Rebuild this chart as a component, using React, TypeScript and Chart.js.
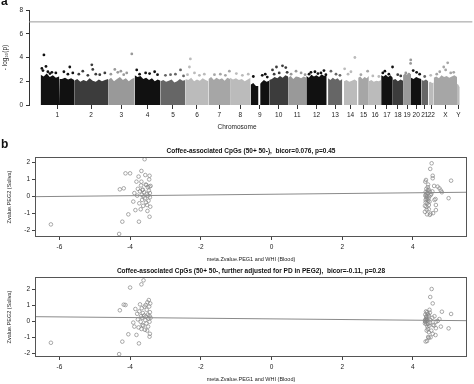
import React, { useEffect, useRef } from 'react';
import { Chart, registerables } from 'chart.js';

Chart.register(...registerables);

const FONT = "'Liberation Sans', Arial, Helvetica, sans-serif";

// ---------------- Panel a : Manhattan plot ----------------
const chromosomes = ['1', '2', '3', '4', '5', '6', '7', '8', '9', '10', '11', '12', '13', '14', '15', '16', '17', '18', '19', '20', '21', '22', 'X', 'Y'];
// span covered by probes on each chromosome (Mb)
const chromSpanMb = [245, 248, 194, 189, 182, 168, 158, 150, 136, 138, 133, 149, 114, 109, 85, 90, 85, 75, 58, 76, 50, 40, 170, 20];
const chromFirstProbeMb = [0, 0, 0, 0, 0, 0, 0, 0, 0, 0, 0, 0, 10, 12, 7, 0, 0, 0, 0, 0, 0, 4, 0, 0];
const centromereGaps: [string, number, number][] = [['1', 135, 141], ['9', 56, 71]];
// upper edge of the dense cloud of CpGs (-log10 p), evenly along each chromosome
const denseBandTop: number[][] = [
  [2.55, 2.4, 2.65, 2.35, 2.5, 2.3, 2.4, 2.2, 2.3, 2.15, 2.25, 2.1],
  [2.05, 2.2, 1.95, 2.1, 2.0, 2.25, 2.05, 1.95, 2.15, 2.0, 2.1, 2.2],
  [2.1, 2.3, 2.0, 2.2, 2.35, 2.1, 2.25, 2.0, 2.2, 2.3],
  [2.5, 2.35, 2.45, 2.2, 2.3, 2.1, 2.25, 2.0, 2.15, 2.05],
  [2.0, 2.1, 1.95, 2.05, 2.15, 1.9, 2.0, 2.2, 2.05, 2.1],
  [2.2, 2.1, 2.3, 2.0, 2.15, 2.05, 2.25, 2.1, 2.0],
  [2.2, 2.35, 2.1, 2.3, 2.15, 2.25, 2.05, 2.3, 2.2],
  [2.3, 2.15, 2.25, 2.1, 2.2, 2.0, 2.15, 2.3],
  [1.7, 1.85, 1.6, 1.8, 1.9, 2.1, 1.95, 2.05],
  [2.1, 2.2, 2.35, 2.25, 2.45, 2.3, 2.5, 2.4],
  [2.3, 2.45, 2.2, 2.4, 2.35, 2.25, 2.4, 2.3],
  [2.45, 2.3, 2.55, 2.4, 2.5, 2.35, 2.6, 2.45, 2.55],
  [2.25, 2.1, 2.3, 2.15, 2.25, 2.05, 2.2],
  [2.0, 2.1, 1.95, 2.05, 2.15, 2.0],
  [2.3, 2.4, 2.2, 2.35, 2.25, 2.45],
  [2.0, 2.1, 1.95, 2.05, 2.0, 2.1],
  [2.5, 2.4, 2.55, 2.35, 2.5, 2.3],
  [2.1, 2.2, 2.0, 2.15, 2.05],
  [2.5, 2.65, 2.55, 2.7, 2.6],
  [2.3, 2.2, 2.35, 2.25, 2.2],
  [2.1, 2.05, 2.15, 2.0],
  [1.9, 1.95, 1.85, 1.9],
  [2.3, 2.4, 2.25, 2.5, 2.35, 2.45, 2.3, 2.4, 2.5, 2.35],
  [1.8, 1.7, 1.5],
];
// individual CpGs standing above the cloud: [chromosome, position Mb, -log10 p]
const topHits: [string, number, number][] = [
  ['1', 24, 4.22], ['1', 39, 3.25], ['1', 9, 3.08], ['1', 213, 3.2], ['1', 17, 2.9], ['1', 53, 2.8], ['1', 82, 2.75], ['1', 111, 2.7], ['1', 170, 2.8], ['1', 199, 2.6], ['1', 235, 2.7], ['1', 68, 2.65],
  ['2', 129, 3.38], ['2', 136, 3.0], ['2', 63, 2.85], ['2', 34, 2.6], ['2', 187, 2.55], ['2', 224, 2.7], ['2', 100, 2.5], ['2', 158, 2.6],
  ['3', 173, 4.3], ['3', 49, 3.0], ['3', 93, 2.85], ['3', 136, 2.7], ['3', 20, 2.6], ['3', 71, 2.75], ['3', 114, 2.55],
  ['4', 15, 2.95], ['4', 146, 2.8], ['4', 36, 2.6], ['4', 80, 2.7], ['4', 109, 2.65], ['4', 167, 2.55],
  ['5', 146, 2.95], ['5', 109, 2.6], ['5', 36, 2.5], ['5', 73, 2.55], ['5', 168, 2.45],
  ['6', 36, 3.88], ['6', 29, 3.2], ['6', 66, 2.7], ['6', 102, 2.5], ['6', 138, 2.6], ['6', 15, 2.55],
  ['7', 153, 2.85], ['7', 44, 2.55], ['7', 87, 2.6], ['7', 124, 2.5],
  ['8', 46, 2.65], ['8', 90, 2.5], ['8', 133, 2.6],
  ['9', 20, 2.4], ['9', 85, 2.5], ['9', 107, 2.6], ['9', 122, 2.35],
  ['10', 97, 3.3], ['10', 121, 3.15], ['10', 24, 2.95], ['10', 53, 3.2], ['10', 73, 2.7], ['10', 36, 2.6], ['10', 131, 2.75],
  ['11', 58, 2.85], ['11', 22, 2.6], ['11', 95, 2.7], ['11', 124, 2.55],
  ['12', 34, 2.75], ['12', 63, 2.8], ['12', 85, 2.65], ['12', 107, 2.7], ['12', 129, 2.9], ['12', 20, 2.6], ['12', 143, 2.55],
  ['13', 31, 2.85], ['13', 68, 2.6], ['13', 97, 2.5],
  ['14', 92, 4.0], ['14', 17, 3.05], ['14', 63, 2.8], ['14', 42, 2.6],
  ['15', 76, 2.85], ['15', 27, 2.55],
  ['16', 29, 2.45], ['16', 73, 2.4],
  ['17', 27, 2.85], ['17', 83, 3.2], ['17', 56, 2.6], ['17', 12, 2.7],
  ['18', 36, 2.55], ['18', 58, 2.45],
  ['19', 56, 3.8], ['19', 55, 3.5], ['19', 20, 2.7], ['19', 42, 2.6],
  ['20', 16, 2.9], ['20', 41, 2.75], ['20', 63, 2.6],
  ['21', 24, 2.4],
  ['22', 18, 2.5],
  ['X', 102, 3.55], ['X', 73, 3.2], ['X', 87, 2.95], ['X', 44, 2.8], ['X', 124, 2.7], ['X', 22, 2.6], ['X', 146, 2.75],
];
const genomeWideThreshold = 7;
const manhattanYMin = 0;
const manhattanYMax = 8;
const manhattanXMin = -85;
const manhattanXMax = 3156;

// ---------------- Panel b : scatter plots ----------------
// meta Z values (PEG1 + WHI, blood) of the 50 negatively / 50 positively coffee-associated CpGs
const negMetaZ = [-6.24, -4.31, -4.29, -4.22, -4.18, -4.13, -4.05, -4.0, -3.91, -3.88, -3.85, -3.82, -3.80, -3.78, -3.76, -3.75, -3.74, -3.72, -3.70, -3.69, -3.68, -3.68, -3.67, -3.66, -3.65, -3.64, -3.63, -3.62, -3.60, -3.59, -3.58, -3.57, -3.56, -3.55, -3.54, -3.53, -3.52, -3.51, -3.50, -3.49, -3.48, -3.47, -3.46, -3.45, -3.45, -3.45, -3.44, -3.44, -3.43, -3.42];
const posMetaZ = [4.53, 4.49, 4.56, 4.56, 5.08, 4.37, 4.35, 4.70, 4.75, 4.45, 4.38, 4.42, 4.79, 4.82, 4.36, 4.40, 4.48, 5.01, 4.35, 4.40, 4.46, 4.50, 4.39, 4.44, 4.61, 4.64, 4.36, 4.41, 4.34, 4.38, 4.45, 4.65, 4.39, 4.45, 4.65, 4.40, 4.48, 4.50, 4.57, 4.34, 4.37, 4.43, 4.52, 4.42, 4.38, 4.47, 4.55, 4.36, 4.60, 4.43];
// Z values in PEG2 saliva
const negPeg2Z = [-1.64, -2.2, 0.42, -1.48, 0.48, 1.36, -1.05, 1.36, -0.3, 0.2, -0.8, 0.87, 0.05, 0.45, 1.17, -1.48, -0.4, 0.3, -0.75, 0.65, 1.5, 0.87, 0.1, -0.2, 0.38, 0.4, -0.55, 0.0, 0.25, 2.19, -0.1, 1.26, 0.7, -0.35, 0.68, 0.15, -0.5, -0.85, 0.55, 0.05, -0.25, 0.35, 1.0, 1.22, -1.19, 0.58, -0.05, 0.2, -0.6, 0.62];
const posPeg2Z = [1.95, 1.62, 1.22, 1.07, 0.93, 0.97, 0.87, 0.58, 0.48, 0.40, 0.45, 0.35, 0.35, 0.25, 0.26, 0.20, 0.28, -0.10, 0.05, 0.02, 0.0, 0.08, -0.15, -0.12, -0.20, -0.15, -0.35, -0.40, -0.55, -0.60, -0.50, -0.50, -0.78, -0.75, -0.80, -1.05, -1.08, -1.00, -0.98, -0.90, 0.10, -0.25, 0.15, 0.55, -0.05, -0.30, 0.30, -0.20, 0.62, 0.70];
// Z values in PEG2 saliva, further adjusted for PD
const negPeg2ZAdj = [-1.36, -2.07, 0.67, -1.29, 1.02, 1.0, -0.83, 2.09, -0.1, -0.35, 0.75, -0.87, 0.45, 0.1, -0.4, -1.4, 0.6, 1.04, -0.05, 0.3, 2.29, -0.5, 0.8, 0.2, -0.25, 0.5, -0.3, 2.54, 0.35, 0.9, -0.55, 0.05, 1.0, 0.28, -0.15, 0.7, -0.6, 1.17, 0.4, -0.35, 0.15, 1.31, 0.9, -0.98, 0.32, -0.05, -0.8, 0.55, 1.1, 0.2];
const posPeg2ZAdj = [2.0, 1.5, 1.1, -0.80, 0.44, 0.6, 0.40, 0.0, 0.12, 0.35, 0.25, 0.45, -0.35, 0.58, 0.10, 0.55, -0.10, -0.46, -0.05, 0.05, -0.30, -1.02, 0.15, 0.28, 0.30, -0.88, -1.28, -0.35, -0.15, -0.20, -0.70, -0.45, -0.60, -1.05, -0.05, -1.25, 0.52, 0.05, -0.25, 0.02, -0.02, -0.18, -0.60, -0.50, 0.30, 0.70, 0.20, 0.08, -0.28, -1.00];
const scatterXMin = -6.69;
const scatterXMax = 5.53;
const fit1 = { intercept: 0.132, slope: 0.0213 };
const fit2 = { intercept: 0.133, slope: -0.0205 };
const title1 = 'Coffee-associated CpGs (50+ 50-),  bicor=0.076, p=0.45';
const title2 = 'Coffee-associated CpGs (50+ 50-, further adjusted for PD in PEG2),  bicor=-0.11, p=0.28';
const xTitleB = 'meta.Zvalue.PEG1 and WHI (Blood)';
const yTitleB = 'Zvalue.PEG2 (Saliva)';

// ---------------- styles ----------------
const chromPalette = ['#111111', '#3c3c3c', '#999999', '#111111', '#666666', '#bbbbbb', '#a6a6a6', '#bbbbbb'];
const TXT = '#222222';

const boxPlugin = {
  id: 'box',
  afterDatasetsDraw(chart: any, _a: any, opts: any) {
    if (!opts || !opts.enabled) return;
    const { ctx, chartArea } = chart;
    ctx.save();
    ctx.strokeStyle = '#555';
    ctx.lineWidth = 1;
    ctx.strokeRect(chartArea.left + 0.5, chartArea.top + 0.5, chartArea.right - chartArea.left - 1, chartArea.bottom - chartArea.top - 1);
    ctx.restore();
  },
};

const centeredTitlePlugin = {
  id: 'centeredTitle',
  afterDraw(chart: any, _a: any, opts: any) {
    if (!opts || !opts.text) return;
    const ctx = chart.ctx;
    ctx.save();
    ctx.font = `${opts.size}px ${FONT}`;
    ctx.fillStyle = TXT;
    ctx.textAlign = 'center';
    ctx.textBaseline = 'middle';
    ctx.fillText(opts.text, chart.width / 2, opts.y);
    ctx.restore();
  },
};

function chromOffsets() {
  const off: number[] = [];
  let acc = 0;
  chromSpanMb.forEach((s) => { off.push(acc); acc += s; });
  return off;
}

function manhattanConfig(): any {
  const off = chromOffsets();
  const bands: any[] = chromosomes.map((c, i) => {
    const start = off[i] + chromFirstProbeMb[i];
    const end = off[i] + chromSpanMb[i];
    const tops = denseBandTop[i];
    const gap = centromereGaps.find((g) => g[0] === c);
    const pts: { x: number; y: number }[] = [{ x: start, y: 0 }];
    let prevX = start;
    let prevH = tops[0];
    tops.forEach((h, k) => {
      const x = start + ((end - start) * k) / (tops.length - 1);
      if (gap) {
        const gs = off[i] + gap[1];
        const ge = off[i] + gap[2];
        if (prevX < gs && x >= gs) {
          pts.push({ x: gs, y: prevH }, { x: gs, y: 0 }, { x: ge, y: 0 }, { x: ge, y: h });
        }
        if (x >= gs && x < ge) { prevX = x; prevH = h; return; }
      }
      pts.push({ x, y: h });
      prevX = x;
      prevH = h;
    });
    pts.push({ x: end, y: 0 });
    return {
      type: 'line',
      data: pts,
      showLine: true,
      fill: 'origin',
      backgroundColor: chromPalette[i % chromPalette.length],
      borderWidth: 0,
      borderColor: 'rgba(0,0,0,0)',
      pointRadius: 0,
      pointHoverRadius: 0,
      tension: 0,
      order: 2,
    };
  });
  const hits = topHits.map(([c, pos, v]) => ({ x: off[chromosomes.indexOf(c)] + pos, y: v }));
  const hitColors = topHits.map(([c]) => chromPalette[chromosomes.indexOf(c) % chromPalette.length]);
  const centers = chromosomes.map((_, i) => off[i] + (chromFirstProbeMb[i] + chromSpanMb[i]) / 2);
  return {
    type: 'scatter',
    data: {
      datasets: [
        {
          type: 'scatter',
          data: hits,
          pointRadius: 1.4,
          pointHoverRadius: 1.4,
          borderWidth: 0,
          backgroundColor: hitColors,
          order: 0,
        },
        {
          type: 'line',
          data: [{ x: manhattanXMin, y: genomeWideThreshold }, { x: manhattanXMax, y: genomeWideThreshold }],
          showLine: true,
          borderColor: '#9a9a9a',
          borderWidth: 1,
          pointRadius: 0,
          fill: false,
          order: 1,
        },
        ...bands,
      ],
    },
    options: {
      responsive: false,
      animation: false,
      events: [],
      layout: { padding: { top: 10, left: 0, right: 0, bottom: 0 } },
      plugins: {
        legend: { display: false },
        tooltip: { enabled: false },
        centeredTitle: { text: 'Chromosome', y: 127, size: 6.5 },
      },
      scales: {
        x: {
          type: 'linear',
          min: manhattanXMin,
          max: manhattanXMax,
          afterFit: (s: any) => { s.height = 35; },
          afterBuildTicks: (s: any) => { s.ticks = centers.map((v) => ({ value: v })); },
          border: { display: false },
          grid: { drawOnChartArea: false, drawTicks: true, tickLength: 4, tickColor: '#333' },
          ticks: {
            autoSkip: false,
            maxRotation: 0,
            minRotation: 0,
            padding: 2.5,
            color: TXT,
            font: { family: FONT, size: 6.5 },
            callback: (_v: any, idx: number) => chromosomes[idx],
          },
        },
        y: {
          type: 'linear',
          min: manhattanYMin,
          max: manhattanYMax,
          afterFit: (s: any) => { s.width = 29; },
          border: { display: true, color: '#333', width: 1 },
          grid: { drawOnChartArea: false, drawTicks: true, tickLength: 3, tickColor: '#333' },
          ticks: { stepSize: 2, padding: 3, color: TXT, font: { family: FONT, size: 6.5 } },
          title: { display: true, text: '- log₁₀(p)', color: TXT, font: { family: FONT, size: 6.5 }, padding: { top: 1, bottom: 0 } },
        },
      },
    },
    plugins: [centeredTitlePlugin],
  };
}

function scatterConfig(title: string, negY: number[], posY: number[], yMin: number, yMax: number, fit: { intercept: number; slope: number }): any {
  const xs = [...negMetaZ, ...posMetaZ];
  const ys = [...negY, ...posY];
  const wholeTicks = (step: number) => (s: any) => {
    const out: { value: number }[] = [];
    for (let v = Math.ceil(s.min / step) * step; v <= s.max + 1e-9; v += step) out.push({ value: v });
    s.ticks = out;
  };
  return {
    type: 'scatter',
    data: {
      datasets: [
        {
          type: 'scatter',
          data: xs.map((x, i) => ({ x, y: ys[i] })),
          pointRadius: 1.8,
          pointHoverRadius: 1.8,
          borderWidth: 0.7,
          borderColor: '#858585',
          backgroundColor: 'rgba(0,0,0,0)',
          order: 0,
        },
        {
          type: 'line',
          data: [
            { x: scatterXMin, y: fit.intercept + fit.slope * scatterXMin },
            { x: scatterXMax, y: fit.intercept + fit.slope * scatterXMax },
          ],
          showLine: true,
          borderColor: '#8a8a8a',
          borderWidth: 1,
          pointRadius: 0,
          fill: false,
          order: 1,
        },
      ],
    },
    options: {
      responsive: false,
      animation: false,
      events: [],
      layout: { padding: { top: 0, left: 0, right: 7, bottom: 0 } },
      plugins: {
        legend: { display: false },
        tooltip: { enabled: false },
        box: { enabled: true },
        title: {
          display: true,
          text: title,
          fullSize: false,
          color: '#111',
          font: { family: FONT, size: 6.5, weight: 'bold' },
          padding: { top: 7, bottom: 2.2 },
        },
      },
      scales: {
        x: {
          type: 'linear',
          min: scatterXMin,
          max: scatterXMax,
          afterFit: (s: any) => { s.height = 27; },
          afterBuildTicks: wholeTicks(2),
          border: { display: false },
          grid: { drawOnChartArea: false, drawTicks: true, tickLength: 3, tickColor: '#444' },
          ticks: { maxRotation: 0, padding: 3, color: TXT, font: { family: FONT, size: 6.5 } },
          title: { display: true, text: xTitleB, color: TXT, font: { family: FONT, size: 5.5 }, padding: { top: 0, bottom: 1.7 } },
        },
        y: {
          type: 'linear',
          min: yMin,
          max: yMax,
          afterFit: (s: any) => { s.width = 35; },
          afterBuildTicks: wholeTicks(1),
          border: { display: false },
          grid: { drawOnChartArea: false, drawTicks: true, tickLength: 3, tickColor: '#444' },
          ticks: { padding: 2, color: TXT, font: { family: FONT, size: 6.5 } },
          title: { display: true, text: yTitleB, color: TXT, font: { family: FONT, size: 5.5 }, padding: { top: 6.5, bottom: 0 } },
        },
      },
    },
    plugins: [boxPlugin],
  };
}

function ChartCanvas({ make, top, width, height }: { make: () => any; top: number; width: number; height: number }) {
  const ref = useRef<HTMLCanvasElement>(null);
  useEffect(() => {
    const chart = new Chart(ref.current as HTMLCanvasElement, make());
    return () => chart.destroy();
  }, []);
  return (
    <canvas
      ref={ref}
      width={width}
      height={height}
      style={{ position: 'absolute', left: 0, top, width, height }}
    />
  );
}

export default function App() {
  return (
    <div style={{ position: 'absolute', left: 0, top: 0, width: 474, height: 384, background: '#fff', overflow: 'hidden', fontFamily: FONT }}>
      <ChartCanvas make={manhattanConfig} top={0} width={474} height={140} />
      <ChartCanvas make={() => scatterConfig(title1, negPeg2Z, posPeg2Z, -2.38, 2.32, fit1)} top={140} width={474} height={124} />
      <ChartCanvas make={() => scatterConfig(title2, negPeg2ZAdj, posPeg2ZAdj, -2.25, 2.75, fit2)} top={260} width={474} height={124} />
      <div style={{ position: 'absolute', left: 1, top: -6, fontWeight: 'bold', fontSize: 12, color: '#111', lineHeight: '14px' }}>a</div>
      <div style={{ position: 'absolute', left: 1, top: 137, fontWeight: 'bold', fontSize: 12, color: '#111', lineHeight: '14px' }}>b</div>
    </div>
  );
}
